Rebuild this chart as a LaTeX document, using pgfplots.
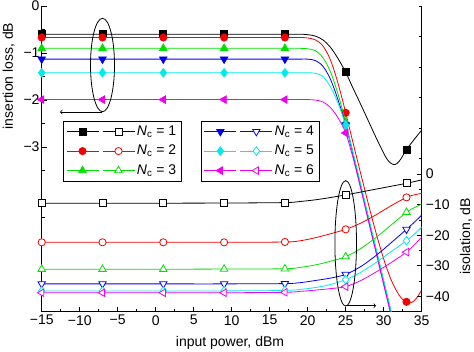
\documentclass[border=0pt]{standalone}
\usepackage{pgfplots}
\pgfplotsset{compat=1.18}
\usepackage{fontspec}
\setmainfont{Liberation Sans}
\definecolor{cblack}{RGB}{0,0,0}
\definecolor{cred}{RGB}{245,0,0}
\definecolor{cgreen}{RGB}{0,225,0}
\definecolor{cblue}{RGB}{0,0,240}
\definecolor{ccyan}{RGB}{0,235,235}
\definecolor{cmag}{RGB}{240,0,240}
\newcommand{\fs}{\fontsize{14}{16}\selectfont}
\pgfplotsset{
  common/.style={width=380pt,height=305.7pt,scale only axis,xmin=-15,xmax=35,
    tick align=inside,major tick length=5pt,minor tick length=3pt,
    every tick/.style={line width=0.9pt,black},
    axis line style={line width=1.1pt},
    every tick label/.append style={font=\fs},
    label style={font=\fs},
    clip mode=individual,
    legend cell align=left},
  ln/.style={color=#1,line width=0.8pt,smooth,tension=0.55,no markers,forget plot},
  mk/.style 2 args={color=#1,only marks,forget plot,mark options={solid,line width=0.8pt,#2}},
  lgd/.style={draw=black,line width=0.8pt,font=\fs,anchor=north west,
    inner xsep=3pt,inner ysep=4pt,row sep=6.5pt,
    nodes={inner ysep=0pt,inner xsep=2pt,text height=10pt,text depth=3pt}},
}
% legend image with a filled and an open symbol
\newcommand{\pairimg}[4]{%
\addlegendimage{legend image code/.code={
  \draw[#1,line width=0.8pt] (0pt,0pt) -- (32pt,0pt);
  \draw[#1,line width=0.8pt] (36pt,0pt) -- (68pt,0pt);
  \draw[#1,line width=0.8pt,mark=#2,mark size=#4,mark options={solid,#3,fill=#1}] plot coordinates {(16pt,0pt)};
  \draw[#1,line width=0.8pt,mark=#2,mark size=#4,mark options={solid,#3,fill=white}] plot coordinates {(52pt,0pt)};
}}}
\begin{document}
\begin{tikzpicture}
% ---------------- insertion loss (left axis) ----------------
\begin{axis}[common,name=ax1,ymin=-6.5,ymax=0,
  axis x line*=bottom,axis y line*=left,
  xtick={-15,-10,...,35},
  xticklabels={−15,−10,−5,0,5,10,15,20,25,30,35},
  minor xtick={-12.5,-7.5,...,32.5},
  ytick={0,-1,-2,-3},yticklabels={0,−1,−2,−3},
  minor ytick={-0.5,-1.5,-2.5,-3.5,-4.5},
  yticklabel style={inner xsep=2pt},
  xlabel={input power, dBm},ylabel={insertion loss, dB},
  xlabel style={at={(axis description cs:0.4955,-0.1024)},anchor=center},
  ylabel style={at={(axis description cs:-0.087,0.771)},anchor=center},
  legend style={lgd,at={(axis description cs:0.0553,0.6248)}},
]
% Nc = 1
\addplot[ln=cblack] coordinates {(-15,-0.60)(-7,-0.60)(1,-0.60)(9,-0.60)(17,-0.60)(19,-0.60)(20,-0.61)(21,-0.64)(22,-0.72)(23,-0.88)(24,-1.12)(25,-1.41)(26,-1.76)(27,-2.10)(28,-2.45)(29,-2.80)(30,-3.13)(30.5,-3.27)(31,-3.35)(31.5,-3.37)(32,-3.31)(32.5,-3.19)(33,-3.05)(34,-2.84)(35,-2.64)};
\addplot[mk={cblack}{fill=cblack},mark=square*,mark size=3.5pt] coordinates {(-15,-0.60)(-7,-0.60)(1,-0.60)(9,-0.60)(17,-0.60)(25,-1.41)(33,-3.05)};
% Nc = 2
\addplot[ln=cred] coordinates {(-15,-0.67)(-7,-0.67)(1,-0.67)(9,-0.67)(17,-0.67)(19,-0.67)(20,-0.68)(21,-0.72)(22,-0.85)(23,-1.15)(24,-1.65)(25,-2.27)(26,-2.93)(27,-3.58)(28,-4.22)(29,-4.83)(30,-5.38)(30.5,-5.62)(31,-5.83)(31.5,-6.00)(32,-6.14)(32.5,-6.24)(33,-6.29)(33.5,-6.31)(34,-6.27)(34.5,-6.17)(35,-6.04)};
\addplot[mk={cred}{fill=cred},mark=*,mark size=3.6pt] coordinates {(-15,-0.67)(-7,-0.67)(1,-0.67)(9,-0.67)(17,-0.67)(25,-2.27)(33,-6.29)};
% Nc = 3
\addplot[ln=cgreen] coordinates {(-15,-0.90)(-7,-0.90)(1,-0.90)(9,-0.90)(17,-0.90)(19,-0.90)(20,-0.91)(21,-0.95)(22,-1.10)(23,-1.40)(24,-1.88)(25,-2.47)(26,-3.14)(27,-3.82)(28,-4.50)(29,-5.17)(30,-5.84)(31,-6.51)(31.5,-6.85)};
\addplot[mk={cgreen}{fill=cgreen},mark=triangle*,mark size=4.3pt] coordinates {(-15,-0.90)(-7,-0.90)(1,-0.90)(9,-0.90)(17,-0.90)(25,-2.47)};
% Nc = 4
\addplot[ln=cblue] coordinates {(-15,-1.13)(-7,-1.13)(1,-1.13)(9,-1.13)(17,-1.13)(19,-1.13)(20,-1.13)(21,-1.16)(22,-1.28)(23,-1.56)(24,-2.00)(25,-2.53)(26,-3.19)(27,-3.87)(28,-4.55)(29,-5.22)(30,-5.90)(31,-6.57)(31.5,-6.90)};
\addplot[mk={cblue}{fill=cblue,rotate=180},mark=triangle*,mark size=4.3pt] coordinates {(-15,-1.13)(-7,-1.13)(1,-1.13)(9,-1.13)(17,-1.13)(25,-2.53)};
% Nc = 5
\addplot[ln=ccyan] coordinates {(-15,-1.42)(-7,-1.42)(1,-1.42)(9,-1.42)(17,-1.42)(19,-1.42)(20,-1.42)(21,-1.43)(22,-1.50)(23,-1.72)(24,-2.07)(25,-2.53)(26,-3.15)(27,-3.82)(28,-4.50)(29,-5.17)(30,-5.85)(31,-6.52)(31.5,-6.86)};
\addplot[mk={ccyan}{fill=ccyan},mark=diamond*,mark size=4.3pt] coordinates {(-15,-1.42)(-7,-1.42)(1,-1.42)(9,-1.42)(17,-1.42)(25,-2.53)};
% Nc = 6
\addplot[ln=cmag] coordinates {(-15,-1.99)(-7,-1.99)(1,-1.99)(9,-1.99)(17,-1.99)(19,-1.99)(20,-1.99)(21,-2.00)(22,-2.04)(23,-2.16)(24,-2.38)(25,-2.70)(26,-3.25)(27,-3.90)(28,-4.58)(29,-5.25)(30,-5.93)(31,-6.60)(31.5,-6.94)};
\addplot[mk={cmag}{fill=cmag,rotate=90},mark=triangle*,mark size=4.3pt] coordinates {(-15,-1.99)(-7,-1.99)(1,-1.99)(9,-1.99)(17,-1.99)(25,-2.70)};
% annotation
\draw[line width=0.8pt] (axis cs:-7,-1.255) ellipse [x radius=12pt,y radius=46.7pt];
\draw[line width=0.8pt,->] (axis cs:-7,-2.255) -- (axis cs:-12.6,-2.255);
% legend
\pairimg{cblack}{square*}{}{3.5pt}
\addlegendentry{\textit{N}\textsubscript{c} = 1}
\pairimg{cred}{*}{}{3.6pt}
\addlegendentry{\textit{N}\textsubscript{c} = 2}
\pairimg{cgreen}{triangle*}{}{4.3pt}
\addlegendentry{\textit{N}\textsubscript{c} = 3}
\end{axis}
% ---------------- isolation (right axis) ----------------
\begin{axis}[common,ymin=-45,ymax=55,
  axis x line=none,axis y line*=right,
  ytick={-40,-30,-20,-10,0},yticklabels={−40,−30,−20,−10,0},
  minor ytick={-45,-35,-25,-15,-5,5,15,25,35,45,55},
  yticklabel style={inner xsep=4pt},
  ylabel={isolation, dB},
  ylabel style={at={(axis description cs:1.1166,0.2476)},anchor=center,rotate=0},
  legend style={lgd,at={(axis description cs:0.418,0.6248)}},
]
% Nc = 1
\addplot[ln=cblack] coordinates {(-15,-9.5)(-7,-9.5)(1,-9.5)(9,-9.45)(17,-9.3)(19,-8.95)(21,-8.4)(23,-7.65)(25,-6.8)(27,-5.85)(29,-4.9)(31,-3.95)(33,-3.0)(34,-2.45)(35,-1.9)};
\addplot[mk={cblack}{fill=white},mark=square*,mark size=3.5pt] coordinates {(-15,-9.5)(-7,-9.5)(1,-9.5)(9,-9.45)(17,-9.3)(25,-6.8)(33,-3.0)};
% Nc = 2
\addplot[ln=cred] coordinates {(-15,-22.3)(-7,-22.3)(1,-22.3)(9,-22.3)(17,-22.2)(19,-21.8)(21,-20.8)(23,-19.5)(25,-18.06)(27,-16.0)(29,-13.3)(31,-10.3)(33,-7.6)(34,-6.8)(35,-6.3)};
\addplot[mk={cred}{fill=white},mark=*,mark size=3.6pt] coordinates {(-15,-22.3)(-7,-22.3)(1,-22.3)(9,-22.3)(17,-22.2)(25,-18.06)(33,-7.6)};
% Nc = 3
\addplot[ln=cgreen] coordinates {(-15,-31.1)(-7,-31.1)(1,-31.1)(9,-31.05)(17,-30.95)(19,-30.5)(21,-29.7)(23,-28.5)(25,-27.0)(27,-24.3)(29,-20.7)(31,-16.6)(33,-12.5)(34,-11.0)(35,-9.8)};
\addplot[mk={cgreen}{fill=white},mark=triangle*,mark size=4.3pt] coordinates {(-15,-31.1)(-7,-31.1)(1,-31.1)(9,-31.05)(17,-30.95)(25,-27.0)(33,-12.5)};
% Nc = 4
\addplot[ln=cblue] coordinates {(-15,-35.9)(-7,-35.9)(1,-35.9)(9,-35.9)(17,-35.8)(19,-35.5)(21,-34.8)(23,-34.0)(25,-32.8)(27,-30.2)(29,-26.6)(31,-22.4)(33,-18.06)(34,-15.8)(35,-13.4)};
\addplot[mk={cblue}{fill=white,rotate=180},mark=triangle*,mark size=4.3pt] coordinates {(-15,-35.9)(-7,-35.9)(1,-35.9)(9,-35.9)(17,-35.8)(25,-32.8)(33,-18.06)};
% Nc = 5
\addplot[ln=ccyan] coordinates {(-15,-38.2)(-7,-38.2)(1,-38.2)(9,-38.2)(17,-38.05)(19,-37.7)(21,-37.1)(23,-36.1)(25,-34.5)(27,-32.1)(29,-28.9)(31,-25.3)(33,-21.8)(34,-19.7)(35,-17.3)};
\addplot[mk={ccyan}{fill=white},mark=diamond*,mark size=4.3pt] coordinates {(-15,-38.2)(-7,-38.2)(1,-38.2)(9,-38.2)(17,-38.05)(25,-34.5)(33,-21.8)};
% Nc = 6
\addplot[ln=cmag] coordinates {(-15,-38.8)(-7,-38.8)(1,-38.8)(9,-38.8)(17,-38.65)(19,-38.35)(21,-37.95)(23,-37.45)(25,-36.8)(27,-34.8)(29,-32.0)(31,-28.9)(33,-25.5)(34,-23.2)(35,-20.6)};
\addplot[mk={cmag}{fill=white,rotate=90},mark=triangle*,mark size=4.3pt] coordinates {(-15,-38.8)(-7,-38.8)(1,-38.8)(9,-38.8)(17,-38.65)(25,-36.8)(33,-25.5)};
% annotation
\draw[line width=0.8pt] (axis cs:25,-22.65) ellipse [x radius=10.8pt,y radius=62.7pt];
\draw[line width=0.8pt,->] (axis cs:25,-43.05) -- (axis cs:29,-43.05);
% legend
\pairimg{cblue}{triangle*}{rotate=180}{4.3pt}
\addlegendentry{\textit{N}\textsubscript{c} = 4}
\pairimg{ccyan}{diamond*}{}{4.3pt}
\addlegendentry{\textit{N}\textsubscript{c} = 5}
\pairimg{cmag}{triangle*}{rotate=90}{4.3pt}
\addlegendentry{\textit{N}\textsubscript{c} = 6}
\end{axis}
\pgfresetboundingbox
\path (ax1.south west) ++(-41.7pt,-39.3pt) rectangle ++(474pt,351pt);
\end{tikzpicture}
\end{document}
